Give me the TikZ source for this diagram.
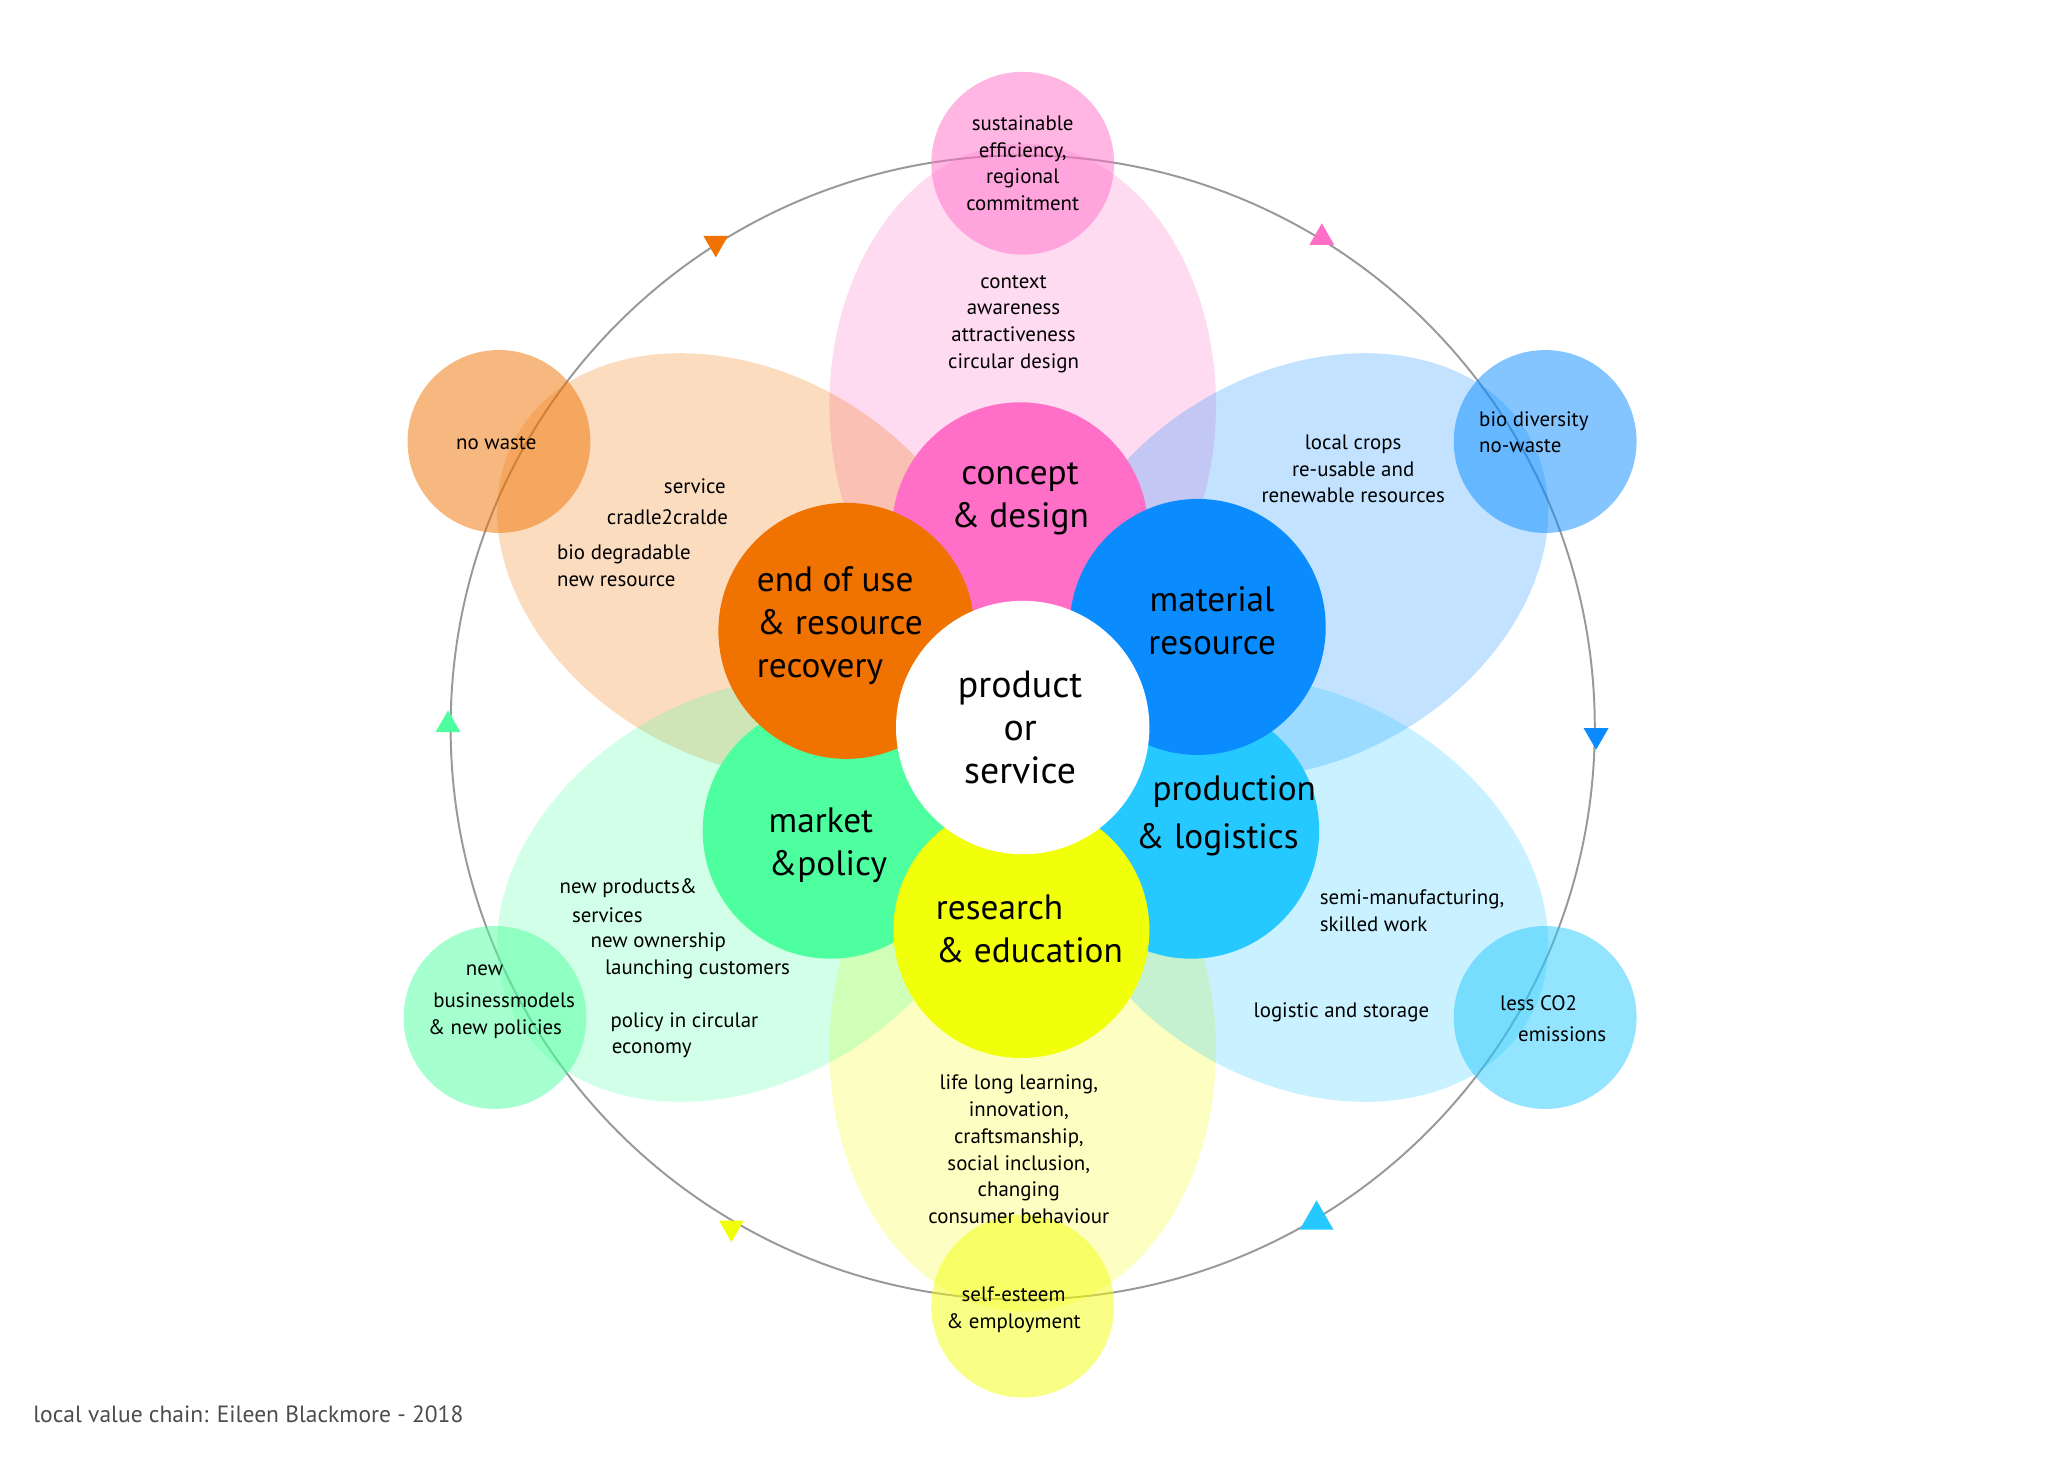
\documentclass[tikz,border=0pt]{standalone}
\usepackage{fontspec}
\setmainfont{PT Sans}
\usetikzlibrary{shapes.geometric}
\definecolor{cpink}{HTML}{FF6EC7}
\definecolor{corange}{HTML}{F07200}
\definecolor{cblue}{HTML}{0A8CFF}
\definecolor{cgreen}{HTML}{4DFF9E}
\definecolor{ccyan}{HTML}{26C9FF}
\definecolor{cyellow}{HTML}{F2FF0A}
\begin{document}
\begin{tikzpicture}[x=1pt,y=-1pt,
 petal/.style={fill=#1,fill opacity=0.25,draw=none},
 outer/.style={circle,minimum size=140pt,inner sep=0pt,fill=#1,fill opacity=0.5,draw=none},
 mid/.style={circle,minimum size=196pt,inner sep=0pt,fill=#1,draw=none},
 sm/.style={font=\fontsize{16}{20.5}\selectfont,align=center,text=black},
 lg/.style={font=\fontsize{27}{33}\selectfont,align=center,text=black},
 tri/.style={regular polygon,regular polygon sides=3,fill=#1,inner sep=0pt,minimum size=22pt}]
\useasboundingbox (0,0) rectangle (1568,1117);
\coordinate (c) at (783,557);
\draw[gray!80,line width=1.5pt] (c) circle[radius=438];
% petals
\fill[petal=cpink] (783,310) ellipse[x radius=148,y radius=200];
\fill[petal=cyellow!80!yellow] (783,804) ellipse[x radius=148,y radius=200];
\fill[petal=corange,rotate around={60:(569,433)}] (569,433) ellipse[x radius=148,y radius=200];
\fill[petal=cblue,rotate around={-60:(997,433)}] (997,433) ellipse[x radius=148,y radius=200];
\fill[petal=cgreen,rotate around={-60:(569,681)}] (569,681) ellipse[x radius=148,y radius=200];
\fill[petal=ccyan,rotate around={60:(997,681)}] (997,681) ellipse[x radius=148,y radius=200];
% outer circles
\node[outer=cpink] (o1) at (783,125) {};
\node[outer=corange] (o2) at (382,338) {};
\node[outer=cblue] (o3) at (1183,338) {};
\node[outer=cgreen] (o4) at (379,779) {};
\node[outer=ccyan] (o5) at (1183,779) {};
\node[outer=cyellow] (o6) at (783,1000) {};
% middle circles
\node[mid=cpink] (m1) at (781,406) {};
\node[mid=cgreen] (m4) at (636,636) {};
\node[mid=ccyan] (m5) at (912,636) {};
\node[mid=cyellow] (m6) at (782,712) {};
\node[mid=corange] (m2) at (648,483) {};
\node[mid=cblue] (m3) at (917,480) {};
\node[circle,minimum size=194pt,fill=white] (ctr) at (c) {};
% triangles
\node[tri=corange,shape border rotate=180] at (548,186) {};
\node[tri=cpink] at (1012,182) {};
\node[tri=cblue,shape border rotate=180] at (1222,563) {};
\node[tri=ccyan,minimum size=30pt] at (1008,934) {};
\node[tri=cyellow,shape border rotate=180] at (560,940) {};
\node[tri=cgreen] at (343,555) {};
% texts
\node[sm] at (783,125) {sustainable\\efficiency,\\regional\\commitment};
\node[sm] at (776,248) {context\\awareness\\attractiveness\\circular design};
\node[lg] at (781,382) {concept\\\& design};
\node[sm] at (532,372) {service};
\node[sm] at (511,396) {cradle2cralde};
\node[sm,anchor=west,align=left] at (423,433) {bio degradable\\new resource};
\node[sm] at (380,339) {no waste};
\node[sm] at (1036,359) {local crops\\re-usable and\\renewable resources};
\node[sm,anchor=west,align=left] at (1129,331) {bio diversity\\no-waste};
\node[lg] at (928,475) {material\\resource};
\node[lg,anchor=west,align=left] at (576,479) {end of use\\\& resource\\recovery};
\node[lg,font=\fontsize{29}{33}\selectfont] at (781,557) {product\\or\\service};
\node[lg] at (945,606) {production};
\node[lg] at (932,643) {\& logistics};
\node[lg,anchor=west,align=left] at (585,647) {market\\\&policy};
\node[lg,anchor=west,align=left] at (713,711) {research\\\& education};
\node[sm,anchor=west,align=left] at (1007,697) {semi-manufacturing,\\skilled work};
\node[sm] at (1027,775) {logistic and storage};
\node[sm] at (1178,768) {less CO2};
\node[sm] at (1196,792) {emissions};
\node[sm] at (481,680) {new products\&};
\node[sm] at (465,701) {services};
\node[sm] at (504,721) {new ownership};
\node[sm] at (534,742) {launching customers};
\node[sm] at (524,783) {policy in circular};
\node[sm] at (499,804) {economy};
\node[sm] at (371,743) {new};
\node[sm] at (386,766) {businessmodels};
\node[sm] at (379,788) {\& new policies};
\node[sm] at (780,880) {life long learning,\\innovation,\\craftsmanship,\\social inclusion,\\changing\\consumer behaviour};
\node[sm] at (776,1003) {self-esteem\\\& employment};
\node[sm,anchor=west,text=black!70,font=\fontsize{18}{20}\selectfont] at (22,1083) {local value chain: Eileen Blackmore - 2018};
\end{tikzpicture}
\end{document}
